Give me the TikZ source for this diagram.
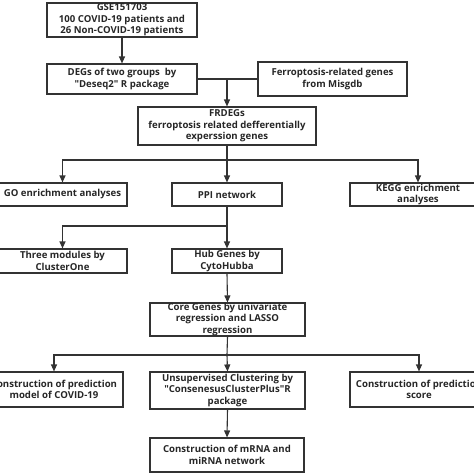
\documentclass[tikz,border=0pt]{standalone}
\usepackage{fontspec}
\setmainfont{Open Sans}[Ligatures=TeXOff]
\usetikzlibrary{arrows.meta}
\definecolor{ln}{HTML}{333333}
\tikzset{
  box/.style={draw=ln, line width=1.1pt, align=center, inner sep=0pt,
    font=\fontsize{9.6}{11.4}\selectfont\bfseries, text=black!85},
  arr/.style={draw=ln, line width=1.1pt, -{Triangle[length=7pt,width=6pt]}},
  lin/.style={draw=ln, line width=1.1pt}
}
\begin{document}
\begin{tikzpicture}[x=1pt,y=-1pt]
\useasboundingbox (0,0) rectangle (474,474);
\node[box, minimum width=150pt, minimum height=34pt] (gse) at (122,20) {GSE151703\\100 COVID-19 patients and\\26 Non-COVID-19 patients};
\node[box, minimum width=150pt, minimum height=30pt] (deg) at (122,79) {DEGs of two groups\ \ by\\"Deseq2" R package};
\node[box, minimum width=149pt, minimum height=34pt] (fer) at (332.5,79) {Ferroptosis-related genes\\from Misgdb};
\node[box, minimum width=178pt, minimum height=38pt] (frd) at (227,126) {FRDEGs\\ferroptosis related defferentially\\experssion genes};
\node[box, minimum width=129pt, minimum height=23pt] (go) at (62.5,194.5) {GO enrichment analyses};
\node[box, minimum width=110pt, minimum height=23pt] (ppi) at (227,194.5) {PPI network};
\node[box, minimum width=136pt, minimum height=23pt] (kegg) at (418,194.5) {KEGG enrichment\\analyses};
\node[box, minimum width=129pt, minimum height=24pt] (three) at (62.5,261) {Three modules by\\ClusterOne};
\node[box, minimum width=110pt, minimum height=24pt] (hub) at (227,261) {Hub Genes by\\CytoHubba};
\node[box, minimum width=155pt, minimum height=33pt] (core) at (227.5,319.5) {Core Genes by univariate\\regression and LASSO\\regression};
\node[box, minimum width=138pt, minimum height=35pt] (c1) at (54,389.5) {Construction of prediction\\model of COVID-19};
\node[box, minimum width=155pt, minimum height=37pt] (uns) at (227.5,390.5) {Unsupervised Clustering by\\"ConsenesusClusterPlus"R\\package};
\node[box, minimum width=138pt, minimum height=35pt] (c2) at (419,389.5) {Construction of prediction\\score};
\node[box, minimum width=154pt, minimum height=34pt] (mrna) at (227,455) {Construction of mRNA and\\miRNA network};
\coordinate (j1) at (227,79);
\coordinate (j2) at (227,160);
\coordinate (j3) at (227,226);
\coordinate (j4) at (227,355);
\draw[arr] (gse.south) -- (deg.north);
\draw[lin] (deg.east) -- (fer.west);
\draw[arr] (j1) -- (frd.north);
\draw[lin] (frd.south) -- (j2);
\draw[arr] (j2) -| (go.north);
\draw[arr] (j2) -- (ppi.north);
\draw[arr] (j2) -| (kegg.north);
\draw[lin] (ppi.south) -- (j3);
\draw[arr] (j3) -| (three.north);
\draw[arr] (j3) -- (hub.north);
\draw[arr] (hub.south) -- (core.north);
\draw[lin] (core.south) -- (j4);
\draw[arr] (j4) -| (c1.north);
\draw[arr] (j4) -- (uns.north);
\draw[arr] (j4) -| (c2.north);
\draw[arr] (uns.south) -- (mrna.north);
\end{tikzpicture}
\end{document}
